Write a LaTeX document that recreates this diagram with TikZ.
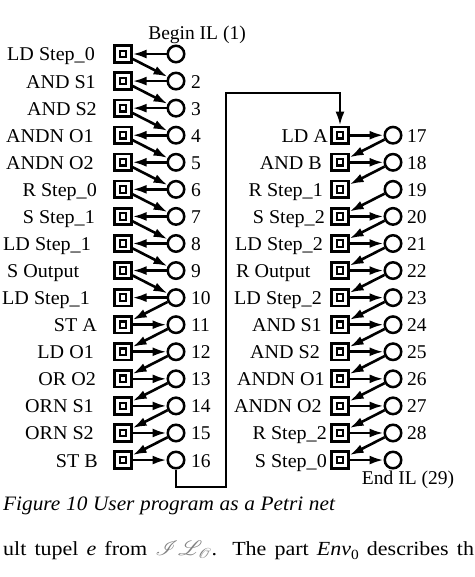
\documentclass[tikz,border=0pt]{standalone}
\usepackage{fontspec}
\setmainfont{Liberation Serif}
\usepackage{mathrsfs}
\usetikzlibrary{arrows.meta}
\begin{document}
\begin{tikzpicture}[x=1pt,y=-1pt,
  trans/.style={draw, line width=2.7pt, minimum size=16.5pt, inner sep=0pt, fill=white,
    path picture={\draw[line width=2.2pt] ([xshift=-3.3pt,yshift=-3.3pt]path picture bounding box.center) rectangle ([xshift=3.3pt,yshift=3.3pt]path picture bounding box.center);}},
  place/.style={draw, circle, line width=2.5pt, minimum size=16.5pt, inner sep=0pt},
  arc/.style={line width=2.6pt, -{Latex[length=14pt,width=9pt]}},
  lbl/.style={font=\fontsize{19.5}{22}\selectfont, inner sep=0pt},
  captext/.style={font=\fontsize{20.5}{24}\selectfont\itshape, inner sep=0pt, anchor=base west},
  bodytext/.style={font=\fontsize{20}{24}\selectfont, inner sep=0pt, anchor=base west},
]
\useasboundingbox (0,0) rectangle (474,577);
\clip (0,0) rectangle (474,577);
% nodes
\foreach \i in {1,...,16} {
  \pgfmathsetmacro\yy{54+(\i-1)*27.07}
  \node[trans] (t\i) at (123,\yy) {};
  \node[place] (p\i) at (176,\yy) {};
  \node[lbl, anchor=base west] (n\i) at (191,\yy+7) {\ifnum\i>1 \i\fi};
}
\foreach \i in {17,...,29} {
  \pgfmathsetmacro\yy{54+(\i-14)*27.07}
  \node[trans] (t\i) at (340,\yy) {};
  \node[place] (p\i) at (393,\yy) {};
  \node[lbl, anchor=base west] (n\i) at (407,\yy+7) {\ifnum\i<29 \i\fi};
}
% left labels
\foreach \i/\t/\xr in {1/LD Step\_0/95, 2/AND S1/96, 3/AND S2/97, 4/ANDN O1/94, 5/ANDN O2/94,
  6/R Step\_0/97, 7/S Step\_1/95, 8/LD Step\_1/91, 10/LD Step\_1/90, 11/ST A/97,
  12/LD O1/94, 13/OR O2/96, 14/ORN S1/94, 15/ORN S2/94, 16/ST B/98} {
  \pgfmathsetmacro\yy{54+(\i-1)*27.07}
  \node[lbl, anchor=base east] (l\i) at (\xr,\yy+7) {\scalebox{1.03}[1]{\t}};
}
\node[lbl, anchor=base west] (l9) at (7,{54+8*27.07+7}) {\scalebox{1.03}[1]{S Output}};
% right labels
\foreach \i/\t/\xr in {17/LD A/328, 18/AND B/322, 19/R Step\_1/323, 20/S Step\_2/325, 21/LD Step\_2/323,
  23/LD Step\_2/322, 24/AND S1/322, 25/AND S2/320, 26/ANDN O1/325, 27/ANDN O2/322,
  28/R Step\_2/327, 29/S Step\_0/327} {
  \pgfmathsetmacro\yy{54+(\i-14)*27.07}
  \node[lbl, anchor=base east] (l\i) at (\xr,\yy+7) {\scalebox{1.03}[1]{\t}};
}
\node[lbl, anchor=base west] (l22) at (236,{54+8*27.07+7}) {\scalebox{1.03}[1]{R Output}};
% begin / end labels
\node[lbl, anchor=base] (begin) at (197,40) {Begin IL (1)};
\node[lbl, anchor=base] (end) at (408,484) {End IL (29)};
% arcs
\foreach \i in {1,...,10} \draw[arc] (p\i) -- (t\i);
\foreach \i in {11,...,18} \draw[arc] (t\i) -- (p\i);
\foreach \i in {20,...,29} \draw[arc] (t\i) -- (p\i);
\foreach \i [evaluate=\i as \j using int(\i+1)] in {1,...,9} \draw[arc] (t\i) -- (p\j);
\foreach \i [evaluate=\i as \j using int(\i+1)] in {10,...,15} \draw[arc] (p\i) -- (t\j);
\foreach \i [evaluate=\i as \j using int(\i+1)] in {17,...,28} \draw[arc] (p\i) -- (t\j);
% loop connection
\coordinate (c1) at (176,487);
\coordinate (c2) at (226,487);
\coordinate (c3) at (226,93);
\coordinate (c4) at (340,93);
\draw[arc] (p16.south) -- (c1) -- (c2) -- (c3) -- (c4) -- (t17.north);
% caption
\node[captext] (caption) at (3,510) {\scalebox{1.04}[1]{\makebox[319pt][s]{Figure 10 User program as a Petri net}}};
% body text
\node[bodytext] (body) at (3,555) {\scalebox{1.1}[1]{\makebox[428pt][s]{ult tupel\ \textit{e}\ from\ {\color{gray}$\mathscr{I}\mathscr{L}_{\mathscr{O}}$}. The part \textit{Env}\raisebox{-4pt}{\fontsize{14}{14}\selectfont 0}\ describes th}}};
\end{tikzpicture}
\end{document}
